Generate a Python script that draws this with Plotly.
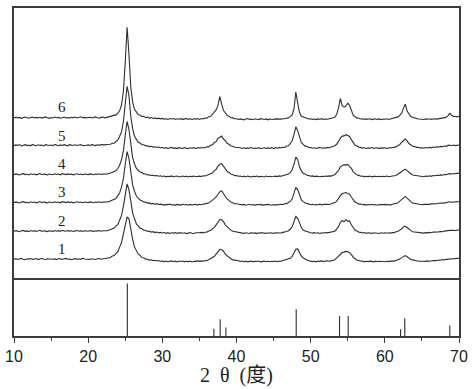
import numpy as np
import plotly.graph_objects as go

# ---- data -------------------------------------------------------------
# 2-theta measurement grid (degrees), 0.25 deg step
two_theta = [round(10 + 0.25 * k, 2) for k in range(241)]

# diffraction intensities (a.u., above each trace's own baseline)
sample_1 = [
    2.4, 3.0, 2.2, 2.8, 3.3, 2.5, 2.0, 2.9, 2.6, 3.2, 2.3, 2.7, 3.1, 2.1, 2.8, 3.4, 2.5, 2.2, 2.9, 2.6,
    3.0, 2.4, 2.8, 2.1, 3.2, 2.6, 2.3, 2.9, 3.3, 2.5, 2.7, 2.0, 2.8, 3.1, 2.4, 2.9, 2.2, 3.5, 2.7, 2.5,
    2.8, 2.3, 3.0, 2.6, 2.2, 2.9, 3.1, 2.5, 2.8, 3.2, 2.9, 3.4, 4.2, 5.7, 6.1, 8.4, 9.9, 14.6, 19.2, 27.9,
    37.2, 44.8, 42.9, 30.6, 22.3, 14.8, 10.9, 7.5, 6.3, 4.2, 3.9, 2.6, 2.5, 1.6, 1.9, 1.0, 1.4, 0.7, 1.1, 0.4,
    0.6, 0.1, 0.7, -0.2, 0.4, 0.8, 0.0, 0.5, -0.3, 0.6, 0.2, 0.7, -0.1, 0.4, 0.1, 0.6, -0.2, 0.5, 0.3, 0.8,
    0.3, 0.8, 0.4, 1.2, 1.0, 2.1, 2.5, 4.1, 5.2, 7.6, 9.5, 12.4, 12.0, 10.5, 7.2, 5.7, 3.6, 3.0, 1.8, 1.6,
    0.8, 1.0, 0.2, 0.7, 0.0, 0.5, -0.2, 0.4, 0.6, -0.1, 0.5, 0.2, 0.7, -0.2, 0.3, 0.6, 0.0, 0.4, -0.1, 0.5,
    0.2, 0.6, 0.0, 0.7, 0.4, 1.0, 1.1, 1.7, 2.3, 3.4, 5.2, 8.6, 12.5, 12.8, 8.8, 5.6, 3.6, 2.2, 1.7, 1.0,
    0.6, 0.1, 0.5, -0.1, 0.7, 0.3, 0.8, 0.2, 0.6, 0.9, 0.4, 1.2, 1.3, 1.9, 3.5, 5.3, 7.6, 9.2, 9.6, 10.3,
    9.9, 9.0, 7.1, 4.3, 2.9, 1.4, 1.2, 0.5, 0.7, -0.1, 0.4, 0.1, 0.6, 0.2, -0.2, 0.5, 0.0, 0.4, 0.1, 0.5,
    -0.1, 0.4, 0.1, 0.6, 0.5, 0.6, 1.3, 1.6, 2.6, 3.8, 5.2, 6.1, 5.0, 3.6, 2.2, 1.8, 1.0, 0.9, 0.4, 0.6,
    0.2, 0.5, 0.3, 0.8, 0.4, 0.9, 0.7, 1.3, 1.0, 1.6, 1.4, 2.1, 1.8, 2.5, 2.3, 2.9, 2.7, 3.1, 2.9, 3.3,
    3.4,
]
sample_2 = [
    1.9, 2.7, 2.2, 1.6, 2.5, 2.9, 2.0, 2.4, 1.7, 2.8, 2.1, 2.6, 1.8, 2.3, 3.0, 1.9, 2.5, 2.2, 1.7, 2.6,
    2.4, 1.9, 2.8, 2.1, 2.6, 1.8, 2.9, 2.3, 2.0, 2.7, 2.2, 2.5, 1.8, 2.4, 2.8, 2.1, 2.6, 1.9, 2.5, 2.3,
    2.0, 2.7, 2.3, 1.9, 2.6, 2.2, 2.8, 2.1, 2.5, 2.3, 2.7, 3.0, 3.7, 4.9, 5.2, 7.2, 8.8, 13.3, 17.9, 27.2,
    39.8, 49.4, 43.6, 31.6, 20.2, 14.5, 9.3, 7.5, 5.1, 4.5, 3.0, 3.0, 1.8, 2.2, 1.2, 1.6, 0.7, 1.3, 0.4, 0.9,
    0.3, 0.8, 0.0, 0.6, -0.2, 0.5, 0.2, 0.7, -0.1, 0.4, 0.6, 0.0, 0.5, -0.3, 0.3, 0.7, 0.1, -0.2, 0.5, 0.2,
    0.5, 0.9, 0.4, 1.1, 1.2, 2.2, 2.8, 4.5, 5.9, 8.4, 10.8, 13.8, 13.5, 11.6, 8.2, 6.3, 4.1, 3.2, 2.0, 1.7,
    0.9, 1.0, 0.3, 0.6, -0.1, 0.5, 0.2, -0.2, 0.6, 0.1, 0.4, -0.3, 0.5, 0.2, 0.7, -0.1, 0.3, 0.0, 0.5, 0.2,
    -0.1, 0.5, 0.2, 0.6, 0.3, 0.9, 1.0, 1.8, 2.5, 4.0, 6.6, 11.4, 16.8, 14.9, 9.6, 5.7, 3.1, 2.4, 1.3, 1.1,
    0.6, 0.2, 0.7, 0.1, 0.5, -0.1, 0.6, 0.3, 0.8, 0.4, 0.9, 0.7, 1.6, 2.1, 4.2, 6.6, 10.8, 12.9, 11.5, 13.8,
    12.0, 12.4, 8.2, 5.8, 3.0, 2.2, 1.0, 0.9, 0.3, 0.7, 0.0, 0.5, 0.3, -0.1, 0.6, 0.2, 0.4, -0.2, 0.5, 0.1,
    0.5, 0.0, 0.6, 0.2, 0.8, 0.7, 1.5, 1.8, 3.2, 4.2, 6.4, 7.2, 5.8, 3.8, 2.9, 1.6, 1.4, 0.7, 0.8, 0.3,
    0.5, 0.2, 0.7, 0.4, 0.9, 0.6, 1.2, 1.0, 1.5, 1.3, 1.9, 1.6, 2.2, 2.1, 2.7, 2.9, 2.6, 3.0, 2.8, 3.2,
    3.4,
]
sample_3 = [
    2.3, 3.1, 2.6, 2.0, 2.9, 3.3, 2.4, 2.8, 2.1, 3.2, 2.5, 3.0, 2.2, 2.7, 3.4, 2.3, 2.9, 2.6, 2.1, 3.0,
    2.8, 2.3, 3.2, 2.5, 3.0, 2.2, 3.3, 2.7, 2.4, 3.1, 2.6, 2.9, 2.2, 2.8, 3.2, 2.5, 3.0, 2.3, 2.9, 2.7,
    2.4, 3.1, 2.7, 2.3, 3.0, 2.6, 3.2, 2.5, 2.9, 2.7, 3.1, 3.3, 4.3, 4.5, 5.8, 6.5, 9.4, 12.3, 18.1, 26.5,
    40.8, 53.4, 46.6, 31.9, 19.8, 13.8, 9.0, 6.9, 4.9, 4.3, 3.0, 2.9, 1.9, 2.1, 1.2, 1.6, 0.8, 1.3, 0.5, 0.9,
    0.5, -0.1, 0.6, 0.2, 0.8, 0.0, 0.4, -0.3, 0.6, 0.3, -0.1, 0.7, 0.2, 0.5, -0.2, 0.6, 0.0, 0.4, 0.7, -0.1,
    0.7, 0.2, 0.9, 0.8, 1.6, 1.9, 3.2, 4.1, 6.3, 8.0, 11.3, 13.4, 14.0, 11.0, 8.7, 5.8, 4.6, 2.8, 2.3, 1.3,
    1.3, 0.6, 0.5, 0.1, 0.6, -0.2, 0.3, 0.7, 0.0, 0.4, -0.3, 0.5, 0.2, 0.6, -0.1, 0.3, 0.0, 0.6, 0.2, -0.2,
    0.4, -0.1, 0.5, 0.2, 0.7, 0.5, 1.2, 1.4, 2.5, 3.6, 5.9, 11.0, 17.6, 15.4, 9.3, 5.0, 3.4, 2.0, 1.6, 0.8,
    0.3, 0.7, 0.0, 0.5, 0.2, 0.8, 0.1, 0.6, 0.3, 0.7, 0.5, 1.0, 1.2, 2.4, 3.6, 6.7, 9.3, 11.2, 11.6, 12.4,
    11.5, 10.8, 7.7, 5.2, 2.8, 2.0, 0.9, 1.0, 0.2, 0.6, -0.1, 0.5, 0.2, 0.7, 0.0, 0.4, -0.2, 0.5, 0.1, 0.4,
    0.6, 0.1, 0.5, -0.1, 0.7, 0.9, 1.6, 2.2, 3.8, 5.1, 7.6, 8.6, 6.8, 4.6, 3.4, 1.9, 1.6, 0.9, 0.8, 0.4,
    0.2, 0.6, 0.4, 0.9, 0.6, 1.1, 0.9, 1.4, 1.2, 1.7, 1.5, 2.0, 1.9, 2.4, 2.6, 3.2, 2.8, 2.6, 3.1, 3.3,
    3.4,
]
sample_4 = [
    2.0, 2.8, 2.3, 1.7, 2.6, 3.0, 2.1, 2.5, 1.8, 2.9, 2.2, 2.7, 1.9, 2.4, 3.1, 2.0, 2.6, 2.3, 1.8, 2.7,
    2.5, 2.0, 2.9, 2.2, 2.7, 1.9, 3.0, 2.4, 2.1, 2.8, 2.3, 2.6, 1.9, 2.5, 2.9, 2.2, 2.7, 2.0, 2.6, 2.4,
    2.1, 2.8, 2.4, 2.0, 2.7, 2.3, 2.9, 2.2, 2.6, 2.4, 2.8, 3.0, 3.9, 4.1, 5.3, 6.0, 8.2, 11.6, 17.2, 25.8,
    41.5, 55.2, 47.4, 31.3, 18.9, 13.0, 8.2, 6.4, 4.6, 4.1, 2.8, 2.7, 1.8, 2.0, 1.2, 1.5, 0.8, 1.2, 0.5, 0.9,
    0.2, 0.7, -0.1, 0.5, 0.1, 0.8, -0.2, 0.4, 0.6, -0.3, 0.3, 0.7, 0.0, 0.5, -0.2, 0.4, 0.1, 0.6, -0.1, 0.3,
    0.6, 0.2, 0.9, 0.7, 1.6, 1.7, 3.1, 3.7, 5.9, 7.3, 10.5, 12.4, 13.0, 10.1, 8.1, 5.2, 4.3, 2.5, 2.2, 1.1,
    1.2, 0.4, 0.7, 0.0, 0.5, -0.2, 0.6, 0.2, -0.3, 0.5, 0.1, 0.7, -0.1, 0.4, 0.2, -0.3, 0.6, 0.0, 0.4, -0.1,
    0.2, 0.6, 0.1, 0.8, 0.4, 1.0, 1.1, 1.9, 2.8, 4.0, 6.9, 12.3, 19.6, 17.3, 9.6, 5.8, 3.2, 2.6, 1.4, 1.2,
    0.4, 0.8, 0.1, 0.6, 0.3, -0.1, 0.5, 0.2, 0.7, 0.3, 0.8, 0.6, 1.5, 2.0, 4.1, 6.2, 9.8, 10.7, 12.1, 11.6,
    12.2, 10.1, 8.3, 4.7, 3.3, 1.6, 1.3, 0.5, 0.6, -0.1, 0.4, 0.1, 0.6, -0.2, 0.3, 0.5, -0.1, 0.4, 0.0, 0.5,
    0.2, 0.6, 0.0, 0.5, 0.4, 1.0, 1.2, 2.3, 3.0, 4.9, 6.4, 7.6, 6.1, 4.0, 3.0, 1.7, 1.5, 0.8, 0.9, 0.3,
    0.4, 0.0, 0.6, 0.3, 0.9, 0.4, 1.2, 0.9, 1.5, 1.2, 1.8, 1.5, 2.2, 2.0, 2.7, 3.1, 2.7, 3.0, 2.8, 3.5,
    3.6,
]
sample_5 = [
    2.6, 3.4, 2.9, 3.7, 2.4, 3.1, 3.6, 2.7, 3.3, 2.5, 3.8, 3.0, 2.6, 3.5, 2.9, 3.2, 2.4, 3.6, 3.1, 2.8,
    3.3, 2.7, 3.9, 3.0, 2.6, 3.4, 2.8, 3.6, 3.2, 2.5, 3.7, 3.1, 2.8, 3.5, 2.9, 3.3, 3.8, 2.7, 3.2, 3.0,
    3.4, 2.8, 3.6, 3.1, 2.7, 3.5, 3.0, 3.7, 3.2, 3.4, 3.8, 3.6, 4.1, 5.0, 5.2, 6.8, 8.2, 12.1, 16.6, 26.8,
    43.5, 62.0, 52.8, 31.5, 19.4, 12.1, 8.9, 6.0, 5.3, 3.6, 3.5, 2.4, 2.6, 1.7, 2.0, 1.2, 1.6, 0.8, 1.2, 0.5,
    0.8, 0.1, 0.6, -0.2, 0.5, 0.9, 0.0, 0.4, -0.3, 0.6, 0.2, -0.1, 0.7, 0.3, -0.4, 0.5, 0.1, 0.6, -0.2, 0.4,
    0.6, 0.1, 0.9, 0.5, 1.5, 1.4, 3.0, 3.4, 5.6, 6.6, 9.8, 11.0, 12.2, 9.1, 7.6, 4.8, 4.0, 2.3, 2.1, 1.0,
    1.0, 0.5, 0.6, -0.1, 0.5, -0.3, 0.4, 0.1, 0.7, -0.2, 0.3, 0.0, 0.6, -0.4, 0.2, 0.5, -0.1, 0.4, 0.0, 0.6,
    -0.2, 0.6, 0.1, 0.9, 0.3, 1.1, 0.8, 2.3, 2.5, 4.9, 7.2, 14.0, 21.5, 17.6, 10.9, 5.5, 4.0, 2.1, 1.9, 0.8,
    0.7, 0.1, 0.5, -0.2, 0.4, 0.8, 0.1, 0.6, 0.2, 0.9, 0.6, 1.2, 1.3, 2.6, 4.0, 7.3, 10.0, 12.2, 12.4, 13.6,
    12.5, 11.9, 8.4, 5.7, 3.1, 2.2, 1.0, 0.9, 0.2, 0.6, -0.2, 0.4, 0.1, 0.7, -0.1, 0.3, 0.6, -0.3, 0.4, 0.2,
    0.5, -0.1, 0.6, 0.3, 0.8, 1.2, 1.4, 2.7, 3.6, 5.8, 7.6, 9.2, 7.4, 4.8, 3.6, 2.1, 1.8, 0.9, 1.0, 0.4,
    0.6, 0.1, 0.8, 0.3, 1.0, 0.5, 1.3, 0.8, 1.6, 1.1, 1.9, 1.4, 2.3, 1.9, 2.9, 3.2, 2.6, 3.3, 2.7, 3.4,
    3.3,
]
sample_6 = [
    1.2, 2.1, 1.4, 1.9, 1.0, 1.7, 2.3, 1.5, 1.1, 1.8, 2.2, 1.3, 1.9, 1.4, 2.0, 1.2, 1.7, 2.4, 1.6, 1.0,
    1.8, 1.3, 2.2, 1.5, 1.9, 1.1, 1.6, 2.3, 1.4, 1.8, 1.2, 2.0, 1.5, 2.2, 1.3, 1.7, 2.5, 1.6, 1.9, 1.4,
    1.5, 2.1, 1.3, 1.8, 2.4, 1.6, 1.2, 1.9, 2.2, 1.4, 1.8, 2.3, 2.7, 3.0, 3.8, 4.4, 6.1, 8.7, 14.5, 28.0,
    57.0, 92.0, 65.0, 32.0, 17.2, 10.1, 7.4, 4.6, 4.3, 2.8, 2.9, 1.7, 2.2, 1.2, 1.7, 0.8, 1.4, 0.6, 1.1, 0.4,
    0.9, 0.2, 0.6, -0.1, 0.7, 0.3, 0.8, -0.2, 0.5, 0.1, 0.6, -0.3, 0.4, 0.7, 0.0, 0.5, -0.2, 0.6, 0.2, 0.7,
    -0.1, 0.8, 0.4, 1.3, 1.2, 2.5, 2.8, 4.9, 6.3, 9.4, 13.6, 22.8, 15.2, 8.7, 6.3, 3.7, 2.9, 1.5, 1.4, 0.5,
    0.6, -0.2, 0.4, 0.1, -0.5, 0.3, 0.7, -0.1, 0.2, -0.4, 0.5, 0.0, -0.3, 0.6, 0.2, -0.2, 0.4, -0.5, 0.3, 0.1,
    -0.2, 0.4, 0.1, 0.5, 0.2, 0.6, 0.5, 1.2, 1.3, 2.7, 4.3, 10.3, 27.3, 16.2, 6.7, 3.0, 2.2, 1.1, 0.9, 0.3,
    0.5, -0.1, 0.3, -0.3, 0.4, 0.1, 0.6, -0.2, 0.3, 0.0, 0.6, 0.7, 1.5, 2.0, 4.7, 11.2, 20.8, 13.6, 12.2, 13.3,
    16.2, 13.8, 8.2, 3.8, 2.5, 1.2, 1.0, 0.3, 0.6, -0.2, 0.4, 0.0, 0.5, -0.3, 0.2, 0.6, -0.1, 0.4, -0.4, 0.3,
    0.1, 0.5, -0.2, 0.4, 0.6, 0.9, 1.9, 2.4, 4.0, 5.8, 10.7, 15.2, 8.3, 5.0, 2.8, 2.1, 1.1, 0.9, 0.3, 0.5,
    0.1, -0.2, 0.4, 0.0, 0.5, -0.1, 0.3, 0.6, 0.2, 0.5, 0.4, 0.8, 1.1, 1.9, 3.4, 5.9, 4.1, 2.9, 2.8, 2.4,
    3.2,
]
samples = [sample_1, sample_2, sample_3, sample_4, sample_5, sample_6]
sample_labels = ["1", "2", "3", "4", "5", "6"]
stack_offsets = [16.3, 44.7, 73.0, 101.3, 129.7, 158.7]   # vertical stacking of traces

# reference pattern (anatase TiO2 card): position and relative intensity
ref_positions = [25.28, 36.95, 37.80, 38.57, 48.05, 53.89, 55.06, 62.12, 62.69, 68.76]
ref_intensity = [100, 14, 32, 16, 51, 38, 38, 13, 34, 20]

x_ticks = [10, 20, 30, 40, 50, 60, 70]
x_minor = [15, 25, 35, 45, 55, 65]
x_title = "2\u2002\u03b8\u2002(度)"

for s in samples:
    assert len(s) == len(two_theta), len(s)

# ---- figure -----------------------------------------------------------
LINE = "#2e2e2e"
FRAME = "#3c3c3c"
W, H = 474, 389
ML, MR, MT, MB = 14, 15, 8, 53
plot_h = H - MT - MB
split = 58 / plot_h

fig = go.Figure()
for s, off in zip(samples, stack_offsets):
    fig.add_trace(go.Scatter(
        x=two_theta, y=[v + off for v in s], mode="lines",
        line=dict(color=LINE, width=1.1), xaxis="x2", yaxis="y2",
        hoverinfo="skip", showlegend=False))

sx, sy = [], []
for p, h in zip(ref_positions, ref_intensity):
    sx += [p, p, None]
    sy += [0, h, None]
fig.add_trace(go.Scatter(x=sx, y=sy, mode="lines", line=dict(color=LINE, width=1.1),
                         xaxis="x", yaxis="y", hoverinfo="skip", showlegend=False))

for lab, off in zip(sample_labels, stack_offsets):
    fig.add_annotation(x=16.43, y=off + 12.8, xref="x2", yref="y2", text=lab,
                       showarrow=False, xanchor="center", yanchor="middle",
                       font=dict(family="Liberation Serif, Times New Roman, serif",
                                 size=15, color="#222"))

fig.add_annotation(x=0.499, y=-(375 - 336) / plot_h, xref="paper", yref="paper",
                   text=x_title, showarrow=False, xanchor="center", yanchor="middle",
                   font=dict(family="Liberation Serif, Noto Sans CJK SC, serif",
                             size=20, color="#222"))

fig.update_layout(
    width=W, height=H,
    margin=dict(l=ML, r=MR, t=MT, b=MB, autoexpand=False),
    paper_bgcolor="white", plot_bgcolor="white",
    showlegend=False,
    xaxis=dict(domain=[0, 1], anchor="y", range=[10, 70], showgrid=False, zeroline=False,
               showline=True, linecolor=FRAME, linewidth=1.5, mirror=False,
               ticks="outside", tickvals=x_ticks, ticklen=5, tickwidth=1.2, tickcolor=FRAME,
               minor=dict(ticks="outside", tickvals=x_minor, ticklen=3, tickwidth=1.2,
                          tickcolor=FRAME),
               tickfont=dict(family="Liberation Sans, Arial, sans-serif", size=16, color="#222")),
    yaxis=dict(domain=[0, split], anchor="x", range=[0, 110.7], showgrid=False,
               zeroline=False, showline=True, linecolor=FRAME, linewidth=1.5, mirror=True,
               showticklabels=False, ticks=""),
    xaxis2=dict(domain=[0, 1], anchor="y2", range=[10, 70], showgrid=False, zeroline=False,
                showline=True, linecolor=FRAME, linewidth=1.5, mirror=True,
                showticklabels=False, ticks=""),
    yaxis2=dict(domain=[split, 1], anchor="x2", range=[0, 270], showgrid=False,
                zeroline=False, showline=True, linecolor=FRAME, linewidth=1.5, mirror=True,
                showticklabels=False, ticks=""),
)

fig.write_html("out.html", config={"displayModeBar": False},
               post_script="document.body.style.margin='0';document.body.style.overflow='hidden';")
